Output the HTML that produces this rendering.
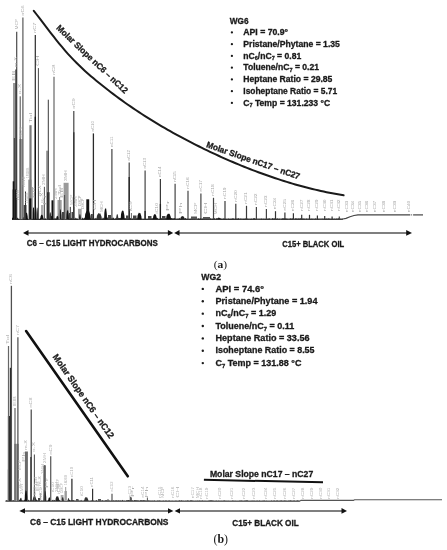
<!DOCTYPE html>
<html><head><meta charset="utf-8"><title>WG6 / WG2 chromatograms</title>
<style>
html,body{margin:0;padding:0;background:#fff;}
svg{display:block;}

</style></head>
<body>
<svg width="447" height="550" viewBox="0 0 447 550">
<rect width="447" height="550" fill="#fff"/>
<polyline points="12,219.3 343,219.0 346,218.4 350,216.8 354,215.5 358,214.9 410.3,214.9" fill="none" stroke="#444" stroke-width="1.2"/>
<line x1="411.3" y1="214.9" x2="412.1" y2="214.9" stroke="#444" stroke-width="1.2"/>
<line x1="413.1" y1="214.9" x2="423" y2="214.9" stroke="#444" stroke-width="1.2"/>
<polygon points="12,219.8 12.00,218.34 12.70,217.43 13.40,217.88 14.10,219.09 14.80,219.00 15.50,217.52 16.20,219.20 16.90,217.72 17.60,217.80 18.30,218.72 19.00,219.00 19.70,219.03 20.40,219.06 21.10,218.76 21.80,218.64 22.50,218.53 23.20,217.02 23.90,217.82 24.60,218.35 25.30,217.05 26.00,219.10 26.70,219.14 27.40,218.37 28.10,219.20 28.80,219.20 29.50,218.62 30.20,218.72 30.90,217.35 31.60,218.33 32.30,218.62 33.00,218.66 33.70,219.07 34.40,219.20 35.10,219.12 35.80,218.15 36.50,219.11 37.20,218.90 37.90,219.20 38.60,217.68 39.30,219.15 40.00,219.04 40.70,217.50 41.40,218.63 42.10,217.62 42.80,218.30 43.50,217.99 44.20,219.18 44.90,218.56 45.60,218.63 46.30,217.53 47.00,218.91 47.70,218.41 48.40,219.19 49.10,218.87 49.80,218.97 50.50,219.15 51.20,217.73 51.90,218.88 52.60,217.09 53.30,218.43 54.00,218.39 54.70,218.30 55.40,218.19 56.10,219.15 56.80,218.77 57.50,219.07 58.20,218.84 58.90,219.18 59.60,217.14 60.30,219.10 61.00,218.21 61.70,219.00 62.40,217.52 63.10,218.24 63.80,219.16 64.50,217.63 65.20,217.24 65.90,217.40 66.60,218.49 67.30,219.15 68.00,219.12 68.70,217.31 69.40,218.53 70.10,219.13 70.80,217.48 71.50,218.29 72.20,218.49 72.90,218.89 73.60,218.83 74.30,219.07 75.00,219.20 75.70,217.51 76.40,218.72 77.10,218.54 77.80,218.97 78.50,217.96 79.20,219.20 79.90,218.90 80.60,219.20 81.30,219.17 82.00,217.14 82.70,218.25 83.40,218.80 84.10,218.60 84.80,217.52 85.50,218.94 86.20,218.43 86.90,218.17 87.60,218.92 88.30,218.61 89.00,217.91 89.70,217.38 90.40,219.15 91.10,217.28 91.80,219.20 92.50,217.95 93.20,217.75 93.90,219.16 94.60,218.81 95.30,217.74 96.00,219.20 96.70,218.33 97.40,217.82 98.10,218.62 98.80,218.04 99.50,219.09 100.20,219.11 100.90,218.91 101.60,219.13 102.30,218.94 103.00,217.22 103.70,218.48 104.40,218.95 105.10,219.04 105.80,217.21 106.50,218.77 107.20,217.09 107.90,218.62 108.60,218.60 109.30,217.43 110.00,217.99 110.70,218.46 111.40,218.80 112.10,217.50 112.80,218.83 113.50,217.33 114.20,219.19 114.90,218.79 115.60,218.61 116.30,217.21 117.00,219.06 117.70,217.77 118.40,218.19 119.10,218.07 119.80,218.33 120.50,217.69 121.20,219.02 121.90,218.95 122.60,219.13 123.30,219.20 124.00,219.13 124.70,217.86 125.40,218.07 126.10,219.18 126.80,218.62 127.50,218.83 128.20,218.63 128.90,218.50 129.60,219.05 130.30,217.72 131.00,218.85 131.70,218.57 132.40,218.55 133.10,219.15 133.80,219.19 134.50,218.93 135.20,218.27 135.90,218.14 136.60,218.35 137.30,219.18 138.00,217.87 138.70,218.17 139.40,217.97 140.10,218.76 140.80,217.86 141.50,219.20 142.20,219.20 142.90,219.20 143.60,219.10 144.30,219.10 145.00,219.14 145.70,218.69 146.40,219.20 147.10,218.64 147.80,219.16 148.50,218.46 149.20,219.20 149.90,219.05 150.60,217.79 151.30,218.74 152.00,218.15 152.70,218.51 153.40,218.60 154.10,219.14 154.80,218.67 155.50,219.20 156.20,218.17 156.90,217.73 157.60,218.03 158.30,219.20 159.00,219.02 159.70,219.04 160.40,219.18 161.10,218.57 161.80,218.18 162.50,219.04 163.20,218.01 163.90,218.18 164.60,219.17 165.30,218.26 166.00,217.95 166.70,219.14 167.40,218.67 168.10,218.55 168.80,218.61 169.50,219.19 170.20,218.50 170.90,218.56 171.60,218.11 172.30,218.17 173.00,219.03 173.70,218.37 174.40,218.00 175.10,217.92 175.80,219.16 176.50,219.20 177.20,218.52 177.90,219.13 178.60,218.69 179.30,217.77 180.00,218.97 180.70,219.10 181.40,218.87 182.10,218.51 182.80,219.18 183.50,218.97 184.20,219.17 184.90,218.50 185.60,218.10 186.30,218.97 187.00,218.98 187.70,218.73 188.40,219.13 189.10,219.10 189.80,219.03 190.50,218.87 191.20,219.19 191.90,218.29 192.60,218.66 193.30,219.06 194.00,219.19 194.70,218.27 195.40,219.17 196.10,219.17 196.80,219.17 197.50,219.19 198.20,217.89 198.90,219.08 199.60,219.05 200.30,218.09 201.00,218.59 201.70,219.14 202.40,218.90 203.10,217.95 203.80,218.97 204.50,218.39 205.20,219.19 205.90,218.35 206.60,218.24 207.30,218.11 208.00,218.47 208.70,218.98 209.40,219.19 210.10,218.77 210.80,218.28 211.50,219.14 212.20,219.09 212.90,218.74 213.60,218.30 214.30,217.91 215.00,219.17 215.70,219.15 216.40,218.18 217.10,218.54 217.80,218.37 218.50,217.61 219.20,217.79 219.90,218.06 220.60,218.60 221.30,219.04 222.00,218.79 222.70,219.17 223.40,218.62 224.10,218.63 224.80,218.68 225.50,219.00 226.20,219.06 226.90,219.02 227.60,219.20 228.30,218.49 229.00,218.91 229.70,219.05 230.40,218.90 231.10,218.68 231.80,219.05 232.50,218.51 233.20,218.35 233.90,219.05 234.60,219.18 235.30,218.62 236.00,218.21 236.70,219.18 237.40,218.69 238.10,218.52 238.80,218.35 239.50,219.18 240.20,219.19 240.90,218.22 241.60,219.19 242.30,219.17 243.00,218.87 243.70,219.00 244.40,218.64 245.10,219.16 245.80,218.36 246.50,219.15 247.20,218.61 247.90,219.20 248.60,218.98 249.30,219.20 250.00,219.10 250.70,219.10 251.40,218.68 252.10,218.99 252.80,219.20 253.50,218.21 254.20,218.41 254.90,218.36 255.60,219.14 256.30,219.04 257.00,219.15 257.70,219.18 258.40,219.20 259.10,218.95 259.80,219.18 260.50,219.17 261.20,218.46 261.90,218.97 262.60,219.17 263.30,218.75 264.00,219.13 264.70,218.92 265.40,219.12 266.10,218.93 266.80,218.80 267.50,218.91 268.20,219.04 268.90,218.57 269.60,218.44 270.30,219.17 271.00,219.18 271.70,219.19 272.40,218.24 273.10,218.31 273.80,219.15 274.50,218.26 275.20,219.16 275.90,218.94 276.60,218.95 277.30,218.36 278.00,219.20 278.70,219.10 279.40,218.84 280.10,219.20 280.80,219.14 281.50,218.98 282.20,218.42 282.90,218.62 283.60,218.51 284.30,218.62 285.00,218.70 285.70,218.48 286.40,218.74 287.10,218.66 287.80,219.11 288.50,219.17 289.20,218.63 289.90,219.17 290.60,218.35 291.30,218.84 292.00,219.09 292.70,218.32 293.40,219.18 294.10,218.94 294.80,219.19 295.50,218.27 296.20,218.87 296.90,218.55 297.60,219.12 298.30,218.56 299.00,218.71 299.70,218.79 300.40,218.30 301.10,219.01 301.80,219.03 302.50,218.72 303.20,218.50 303.90,219.09 304.60,218.75 305.30,219.16 306.00,218.90 306.70,218.61 307.40,219.20 308.10,218.67 308.80,219.20 309.50,218.28 310.20,218.98 310.90,219.03 311.60,218.68 312.30,218.93 313.00,218.67 313.70,219.19 314.40,218.88 315.10,218.89 315.80,218.33 316.50,219.20 317.20,218.99 317.90,218.80 318.60,218.90 319.30,219.19 320.00,218.85 320.70,219.15 321.40,219.16 322.10,218.43 322.80,219.16 323.50,218.99 324.20,218.64 324.90,218.70 325.60,218.89 326.30,218.55 327.00,218.98 327.70,218.82 328.40,218.53 329.10,218.74 329.80,218.79 330.50,219.04 331.20,218.89 331.90,219.04 332.60,218.65 333.30,219.06 334.00,218.98 334.70,218.63 335.40,218.95 336.10,219.09 336.80,218.52 337.50,219.05 338.20,218.49 338.90,218.58 339.60,219.00 340.30,218.69 341.00,219.20 341.70,219.05 342.40,218.46 343,219.8" fill="#1e1e1e"/>
<rect x="13.00" y="83.00" width="2.60" height="136.30" fill="#9a9a9a"/>
<rect x="19.30" y="138.90" width="3.40" height="80.40" fill="#9a9a9a"/>
<rect x="28.20" y="179.60" width="3.30" height="39.70" fill="#9a9a9a"/>
<rect x="29.40" y="125.20" width="2.20" height="94.10" fill="#7a7a7a"/>
<rect x="46.10" y="150.70" width="2.50" height="68.60" fill="#9a9a9a"/>
<rect x="63.60" y="182.80" width="5.00" height="36.50" fill="#9a9a9a"/>
<rect x="57.50" y="200.00" width="4.20" height="19.30" fill="#a0a0a0"/>
<rect x="78.00" y="208.80" width="3.70" height="10.50" fill="#a8a8a8"/>
<rect x="41.00" y="205.00" width="2.50" height="14.30" fill="#b0b0b0"/>
<rect x="12.70" y="181.30" width="1.90" height="38.00" fill="#111"/>
<rect x="12.70" y="189.40" width="3.90" height="29.90" fill="#111"/>
<rect x="29.20" y="198.40" width="2.30" height="20.90" fill="#111"/>
<rect x="47.20" y="192.20" width="2.30" height="27.10" fill="#111"/>
<rect x="51.50" y="200.30" width="2.10" height="19.00" fill="#111"/>
<polygon points="58.70,219.30 58.92,213.53 59.32,210.90 59.82,208.80 60.24,209.85 60.66,209.33 61.08,212.48 61.39,215.10 61.50,219.30" fill="#111"/>
<polygon points="66.30,219.30 66.51,214.02 66.87,211.62 67.34,209.70 67.73,210.66 68.12,210.18 68.51,213.06 68.80,215.46 68.90,219.30" fill="#111"/>
<polygon points="40.30,219.30 40.54,216.61 40.96,215.38 41.50,214.40 41.95,214.89 42.40,214.65 42.85,216.12 43.18,217.34 43.30,219.30" fill="#111"/>
<rect x="86.30" y="199.30" width="2.90" height="20.00" fill="#111"/>
<polygon points="84.70,219.30 85.19,214.29 86.04,212.02 87.14,210.20 88.06,211.11 88.97,210.66 89.88,213.38 90.56,215.66 90.80,219.30" fill="#111"/>
<polygon points="78.90,219.30 79.06,216.38 79.34,215.06 79.70,214.00 80.00,214.53 80.30,214.26 80.60,215.85 80.82,217.18 80.90,219.30" fill="#222"/>
<polygon points="104.10,219.30 104.33,212.98 104.74,210.10 105.26,207.80 105.70,208.95 106.13,208.38 106.56,211.83 106.88,214.70 107.00,219.30" fill="#111"/>
<polygon points="96.50,219.30 96.92,215.84 97.67,214.26 98.62,213.00 99.41,213.63 100.21,213.31 101.00,215.21 101.59,216.78 101.80,219.30" fill="#333"/>
<polygon points="120.70,219.30 121.01,214.29 121.56,212.02 122.26,210.20 122.84,211.11 123.43,210.66 124.02,213.38 124.44,215.66 124.60,219.30" fill="#111"/>
<polygon points="116.20,219.30 116.37,216.38 116.66,215.06 117.04,214.00 117.36,214.53 117.67,214.26 117.98,215.85 118.22,217.18 118.30,219.30" fill="#333"/>
<polygon points="137.20,219.30 137.55,215.62 138.17,213.94 138.96,212.60 139.62,213.27 140.28,212.94 140.94,214.94 141.42,216.62 141.60,219.30" fill="#111"/>
<polygon points="152.90,219.30 153.21,216.38 153.76,215.06 154.46,214.00 155.04,214.53 155.63,214.26 156.22,215.85 156.64,217.18 156.80,219.30" fill="#111"/>
<polygon points="166.10,219.30 166.49,216.11 167.18,214.66 168.06,213.50 168.79,214.08 169.53,213.79 170.26,215.53 170.80,216.98 171.00,219.30" fill="#111"/>
<polygon points="180.30,219.30 180.65,217.49 181.27,216.66 182.06,216.00 182.72,216.33 183.38,216.16 184.04,217.16 184.52,217.98 184.70,219.30" fill="#222"/>
<rect x="23.60" y="205.00" width="2.90" height="14.30" fill="#444"/>
<polygon points="32.30,219.30 32.48,212.43 32.81,209.30 33.22,206.80 33.56,208.05 33.91,207.43 34.25,211.18 34.51,214.30 34.60,219.30" fill="#111"/>
<polygon points="25.00,219.30 25.22,215.50 25.62,213.78 26.12,212.40 26.54,213.09 26.96,212.75 27.38,214.81 27.69,216.54 27.80,219.30" fill="#111"/>
<polygon points="56.20,219.30 56.38,217.38 56.71,216.50 57.12,215.80 57.47,216.15 57.81,215.98 58.16,217.03 58.41,217.90 58.50,219.30" fill="#111"/>
<polygon points="49.70,219.30 49.95,217.38 50.38,216.50 50.94,215.80 51.41,216.15 51.87,215.98 52.34,217.03 52.68,217.90 52.80,219.30" fill="#111"/>
<polygon points="36.20,219.30 36.35,212.53 36.62,209.46 36.96,207.00 37.24,208.23 37.53,207.62 37.81,211.31 38.02,214.38 38.10,219.30" fill="#333"/>
<polygon points="49.20,219.30 49.37,215.28 49.66,213.46 50.04,212.00 50.35,212.73 50.67,212.37 50.98,214.56 51.22,216.38 51.30,219.30" fill="#333"/>
<rect x="62.00" y="212.00" width="2.00" height="7.30" fill="#444"/>
<rect x="69.00" y="213.00" width="1.00" height="6.30" fill="#444"/>
<rect x="71.50" y="212.00" width="1.50" height="7.30" fill="#444"/>
<rect x="91.00" y="214.00" width="1.80" height="5.30" fill="#444"/>
<rect x="108.00" y="215.00" width="3.00" height="4.30" fill="#444"/>
<rect x="126.00" y="215.50" width="2.50" height="3.80" fill="#444"/>
<rect x="133.00" y="215.50" width="3.50" height="3.80" fill="#444"/>
<rect x="148.00" y="216.00" width="3.50" height="3.30" fill="#444"/>
<rect x="162.00" y="216.00" width="3.50" height="3.30" fill="#444"/>
<rect x="191.00" y="216.50" width="6.00" height="2.80" fill="#555"/>
<rect x="203.00" y="217.00" width="7.00" height="2.30" fill="#555"/>
<line x1="16.70" y1="31.80" x2="16.70" y2="219.30" stroke="#4a4a4a" stroke-width="1.2"/>
<line x1="22.90" y1="17.60" x2="22.90" y2="219.30" stroke="#5a5a5a" stroke-width="1.2"/>
<line x1="35.30" y1="35.00" x2="35.30" y2="219.30" stroke="#2a2a2a" stroke-width="1.2"/>
<line x1="38.40" y1="68.10" x2="38.40" y2="219.30" stroke="#4a4a4a" stroke-width="1.0"/>
<line x1="54.00" y1="76.80" x2="54.00" y2="219.30" stroke="#666" stroke-width="1.2"/>
<line x1="48.30" y1="99.70" x2="48.30" y2="219.30" stroke="#3a3a3a" stroke-width="1.0"/>
<line x1="20.20" y1="96.30" x2="20.20" y2="219.30" stroke="#4a4a4a" stroke-width="1.0"/>
<line x1="14.40" y1="138.00" x2="14.40" y2="219.30" stroke="#333" stroke-width="0.9"/>
<line x1="25.50" y1="191.50" x2="25.50" y2="219.30" stroke="#333" stroke-width="1.0"/>
<line x1="32.20" y1="187.00" x2="32.20" y2="219.30" stroke="#888" stroke-width="1.0"/>
<line x1="44.40" y1="186.80" x2="44.40" y2="219.30" stroke="#555" stroke-width="1.0"/>
<line x1="64.50" y1="195.00" x2="64.50" y2="219.30" stroke="#555" stroke-width="1.2"/>
<line x1="70.30" y1="206.90" x2="70.30" y2="219.30" stroke="#333" stroke-width="1.0"/>
<line x1="59.60" y1="197.00" x2="59.60" y2="219.30" stroke="#888" stroke-width="1.0"/>
<line x1="73.80" y1="111.00" x2="73.80" y2="219.30" stroke="#444" stroke-width="1.2"/>
<line x1="93.40" y1="133.40" x2="93.40" y2="219.30" stroke="#2a2a2a" stroke-width="1.3"/>
<line x1="111.90" y1="149.00" x2="111.90" y2="219.30" stroke="#444" stroke-width="1.2"/>
<line x1="129.20" y1="162.40" x2="129.20" y2="219.30" stroke="#444" stroke-width="1.2"/>
<line x1="145.10" y1="170.50" x2="145.10" y2="219.30" stroke="#444" stroke-width="1.2"/>
<line x1="160.40" y1="179.00" x2="160.40" y2="219.30" stroke="#3a3a3a" stroke-width="1.2"/>
<line x1="175.10" y1="183.70" x2="175.10" y2="219.30" stroke="#444" stroke-width="1.2"/>
<line x1="188.00" y1="190.80" x2="188.00" y2="219.30" stroke="#444" stroke-width="1.2"/>
<line x1="200.90" y1="193.50" x2="200.90" y2="219.30" stroke="#444" stroke-width="1.2"/>
<line x1="213.50" y1="197.80" x2="213.50" y2="219.30" stroke="#444" stroke-width="1.2"/>
<line x1="225.00" y1="201.00" x2="225.00" y2="219.30" stroke="#3a3a3a" stroke-width="1.2"/>
<line x1="235.80" y1="203.70" x2="235.80" y2="219.30" stroke="#3a3a3a" stroke-width="1.2"/>
<line x1="246.50" y1="205.80" x2="246.50" y2="219.30" stroke="#3a3a3a" stroke-width="1.2"/>
<line x1="256.40" y1="206.90" x2="256.40" y2="219.30" stroke="#444" stroke-width="1.2"/>
<line x1="266.40" y1="209.00" x2="266.40" y2="219.30" stroke="#444" stroke-width="1.2"/>
<line x1="275.50" y1="211.20" x2="275.50" y2="219.30" stroke="#333" stroke-width="1.2"/>
<line x1="284.90" y1="212.60" x2="284.90" y2="219.30" stroke="#333" stroke-width="1.2"/>
<line x1="293.40" y1="213.20" x2="293.40" y2="219.30" stroke="#333" stroke-width="1.2"/>
<line x1="301.70" y1="214.80" x2="301.70" y2="219.30" stroke="#333" stroke-width="1.2"/>
<line x1="309.50" y1="214.80" x2="309.50" y2="219.30" stroke="#333" stroke-width="1.2"/>
<line x1="317.40" y1="215.50" x2="317.40" y2="219.30" stroke="#333" stroke-width="1.2"/>
<line x1="324.70" y1="215.90" x2="324.70" y2="219.30" stroke="#333" stroke-width="1.2"/>
<line x1="332.10" y1="216.40" x2="332.10" y2="219.30" stroke="#333" stroke-width="1.2"/>
<line x1="339.30" y1="216.60" x2="339.30" y2="219.30" stroke="#444" stroke-width="1.2"/>
<line x1="131.40" y1="213.00" x2="131.40" y2="219.30" stroke="#666" stroke-width="1.0"/>
<line x1="129.20" y1="177.00" x2="129.20" y2="219.30" stroke="#222" stroke-width="1.3"/>
<line x1="145.10" y1="211.00" x2="145.10" y2="219.30" stroke="#222" stroke-width="1.3"/>
<line x1="160.40" y1="204.00" x2="160.40" y2="219.30" stroke="#222" stroke-width="1.3"/>
<line x1="73.80" y1="132.30" x2="73.80" y2="219.30" stroke="#333" stroke-width="1.3"/>
<line x1="15.90" y1="69.50" x2="15.90" y2="219.30" stroke="#222" stroke-width="1.1"/>
<line x1="35.30" y1="116.70" x2="35.30" y2="219.30" stroke="#111" stroke-width="1.3"/>
<text transform="translate(17.55,29.50) rotate(-90)" font-family='"Liberation Sans", Arial, sans-serif' font-size="3.0" fill="#a8a8a8" textLength="10.5" lengthAdjust="spacingAndGlyphs">MCP</text>
<text transform="translate(23.75,15.80) rotate(-90)" font-family='"Liberation Sans", Arial, sans-serif' font-size="3.0" fill="#a8a8a8" textLength="10.5" lengthAdjust="spacingAndGlyphs">nC6</text>
<text transform="translate(36.35,33.00) rotate(-90)" font-family='"Liberation Sans", Arial, sans-serif' font-size="3.0" fill="#a8a8a8" textLength="10.5" lengthAdjust="spacingAndGlyphs">nC7</text>
<text transform="translate(39.25,66.00) rotate(-90)" font-family='"Liberation Sans", Arial, sans-serif' font-size="3.0" fill="#a8a8a8" textLength="10.5" lengthAdjust="spacingAndGlyphs">CH</text>
<text transform="translate(54.85,75.00) rotate(-90)" font-family='"Liberation Sans", Arial, sans-serif' font-size="3.0" fill="#a8a8a8" textLength="10.5" lengthAdjust="spacingAndGlyphs">nC8</text>
<text transform="translate(74.65,108.80) rotate(-90)" font-family='"Liberation Sans", Arial, sans-serif' font-size="3.0" fill="#a8a8a8" textLength="10.5" lengthAdjust="spacingAndGlyphs">nC9</text>
<text transform="translate(94.25,131.50) rotate(-90)" font-family='"Liberation Sans", Arial, sans-serif' font-size="3.0" fill="#a8a8a8" textLength="10.5" lengthAdjust="spacingAndGlyphs">nC10</text>
<text transform="translate(112.75,147.00) rotate(-90)" font-family='"Liberation Sans", Arial, sans-serif' font-size="3.0" fill="#a8a8a8" textLength="10.5" lengthAdjust="spacingAndGlyphs">nC11</text>
<text transform="translate(130.05,160.50) rotate(-90)" font-family='"Liberation Sans", Arial, sans-serif' font-size="3.0" fill="#a8a8a8" textLength="10.5" lengthAdjust="spacingAndGlyphs">nC12</text>
<text transform="translate(145.95,168.50) rotate(-90)" font-family='"Liberation Sans", Arial, sans-serif' font-size="3.0" fill="#a8a8a8" textLength="10.5" lengthAdjust="spacingAndGlyphs">nC13</text>
<text transform="translate(161.25,177.00) rotate(-90)" font-family='"Liberation Sans", Arial, sans-serif' font-size="3.0" fill="#a8a8a8" textLength="10.5" lengthAdjust="spacingAndGlyphs">nC14</text>
<text transform="translate(175.95,181.80) rotate(-90)" font-family='"Liberation Sans", Arial, sans-serif' font-size="3.0" fill="#a8a8a8" textLength="10.5" lengthAdjust="spacingAndGlyphs">nC15</text>
<text transform="translate(188.85,188.80) rotate(-90)" font-family='"Liberation Sans", Arial, sans-serif' font-size="3.0" fill="#a8a8a8" textLength="11.5" lengthAdjust="spacingAndGlyphs">nC16</text>
<text transform="translate(201.75,191.50) rotate(-90)" font-family='"Liberation Sans", Arial, sans-serif' font-size="3.0" fill="#a8a8a8" textLength="11.5" lengthAdjust="spacingAndGlyphs">nC17</text>
<text transform="translate(214.35,195.80) rotate(-90)" font-family='"Liberation Sans", Arial, sans-serif' font-size="3.0" fill="#a8a8a8" textLength="11.5" lengthAdjust="spacingAndGlyphs">nC18</text>
<text transform="translate(225.85,199.00) rotate(-90)" font-family='"Liberation Sans", Arial, sans-serif' font-size="3.0" fill="#a8a8a8" textLength="11.5" lengthAdjust="spacingAndGlyphs">nC19</text>
<text transform="translate(236.65,201.70) rotate(-90)" font-family='"Liberation Sans", Arial, sans-serif' font-size="3.0" fill="#a8a8a8" textLength="11.5" lengthAdjust="spacingAndGlyphs">nC20</text>
<text transform="translate(247.35,203.80) rotate(-90)" font-family='"Liberation Sans", Arial, sans-serif' font-size="3.0" fill="#a8a8a8" textLength="11.5" lengthAdjust="spacingAndGlyphs">nC21</text>
<text transform="translate(257.25,205.00) rotate(-90)" font-family='"Liberation Sans", Arial, sans-serif' font-size="3.0" fill="#a8a8a8" textLength="11.5" lengthAdjust="spacingAndGlyphs">nC22</text>
<text transform="translate(267.25,207.00) rotate(-90)" font-family='"Liberation Sans", Arial, sans-serif' font-size="3.0" fill="#a8a8a8" textLength="11.5" lengthAdjust="spacingAndGlyphs">nC23</text>
<text transform="translate(276.35,209.20) rotate(-90)" font-family='"Liberation Sans", Arial, sans-serif' font-size="3.0" fill="#a8a8a8" textLength="11.5" lengthAdjust="spacingAndGlyphs">nC24</text>
<text transform="translate(285.75,210.60) rotate(-90)" font-family='"Liberation Sans", Arial, sans-serif' font-size="3.0" fill="#a8a8a8" textLength="11.5" lengthAdjust="spacingAndGlyphs">nC25</text>
<text transform="translate(294.25,211.20) rotate(-90)" font-family='"Liberation Sans", Arial, sans-serif' font-size="3.0" fill="#a8a8a8" textLength="11.5" lengthAdjust="spacingAndGlyphs">nC26</text>
<text transform="translate(302.55,211.00) rotate(-90)" font-family='"Liberation Sans", Arial, sans-serif' font-size="3.0" fill="#a8a8a8" textLength="11.5" lengthAdjust="spacingAndGlyphs">nC27</text>
<text transform="translate(310.35,211.00) rotate(-90)" font-family='"Liberation Sans", Arial, sans-serif' font-size="3.0" fill="#a8a8a8" textLength="11.5" lengthAdjust="spacingAndGlyphs">nC28</text>
<text transform="translate(318.25,211.00) rotate(-90)" font-family='"Liberation Sans", Arial, sans-serif' font-size="3.0" fill="#a8a8a8" textLength="11.5" lengthAdjust="spacingAndGlyphs">nC29</text>
<text transform="translate(325.55,211.00) rotate(-90)" font-family='"Liberation Sans", Arial, sans-serif' font-size="3.0" fill="#a8a8a8" textLength="11.5" lengthAdjust="spacingAndGlyphs">nC30</text>
<text transform="translate(332.95,211.00) rotate(-90)" font-family='"Liberation Sans", Arial, sans-serif' font-size="3.0" fill="#a8a8a8" textLength="11.5" lengthAdjust="spacingAndGlyphs">nC31</text>
<text transform="translate(340.15,211.00) rotate(-90)" font-family='"Liberation Sans", Arial, sans-serif' font-size="3.0" fill="#a8a8a8" textLength="11.5" lengthAdjust="spacingAndGlyphs">nC32</text>
<text transform="translate(347.55,212.20) rotate(-90)" font-family='"Liberation Sans", Arial, sans-serif' font-size="3.0" fill="#a8a8a8" textLength="11.5" lengthAdjust="spacingAndGlyphs">nC33</text>
<text transform="translate(353.55,212.20) rotate(-90)" font-family='"Liberation Sans", Arial, sans-serif' font-size="3.0" fill="#a8a8a8" textLength="11.5" lengthAdjust="spacingAndGlyphs">nC34</text>
<text transform="translate(360.65,212.20) rotate(-90)" font-family='"Liberation Sans", Arial, sans-serif' font-size="3.0" fill="#a8a8a8" textLength="11.5" lengthAdjust="spacingAndGlyphs">nC35</text>
<text transform="translate(368.25,212.20) rotate(-90)" font-family='"Liberation Sans", Arial, sans-serif' font-size="3.0" fill="#a8a8a8" textLength="11.5" lengthAdjust="spacingAndGlyphs">nC36</text>
<text transform="translate(376.05,212.20) rotate(-90)" font-family='"Liberation Sans", Arial, sans-serif' font-size="3.0" fill="#a8a8a8" textLength="11.5" lengthAdjust="spacingAndGlyphs">nC37</text>
<text transform="translate(385.45,212.20) rotate(-90)" font-family='"Liberation Sans", Arial, sans-serif' font-size="3.0" fill="#a8a8a8" textLength="11.5" lengthAdjust="spacingAndGlyphs">nC38</text>
<text transform="translate(395.95,212.20) rotate(-90)" font-family='"Liberation Sans", Arial, sans-serif' font-size="3.0" fill="#a8a8a8" textLength="11.5" lengthAdjust="spacingAndGlyphs">nC39</text>
<text transform="translate(410.05,212.20) rotate(-90)" font-family='"Liberation Sans", Arial, sans-serif' font-size="3.0" fill="#a8a8a8" textLength="11.5" lengthAdjust="spacingAndGlyphs">nC40</text>
<text transform="translate(21.65,138.00) rotate(-90)" font-family='"Liberation Sans", Arial, sans-serif' font-size="3.0" fill="#a8a8a8" textLength="10.5" lengthAdjust="spacingAndGlyphs">MCH</text>
<text transform="translate(31.55,123.00) rotate(-90)" font-family='"Liberation Sans", Arial, sans-serif' font-size="3.0" fill="#a8a8a8" textLength="10.5" lengthAdjust="spacingAndGlyphs">Tol</text>
<text transform="translate(15.05,81.00) rotate(-90)" font-family='"Liberation Sans", Arial, sans-serif' font-size="3.0" fill="#a8a8a8" textLength="10.5" lengthAdjust="spacingAndGlyphs">EB</text>
<text transform="translate(16.85,67.50) rotate(-90)" font-family='"Liberation Sans", Arial, sans-serif' font-size="3.0" fill="#a8a8a8" textLength="10.5" lengthAdjust="spacingAndGlyphs">m-X</text>
<text transform="translate(21.05,94.30) rotate(-90)" font-family='"Liberation Sans", Arial, sans-serif' font-size="3.0" fill="#a8a8a8" textLength="10.5" lengthAdjust="spacingAndGlyphs">o-X</text>
<text transform="translate(45.25,185.00) rotate(-90)" font-family='"Liberation Sans", Arial, sans-serif' font-size="3.0" fill="#a8a8a8" textLength="10.5" lengthAdjust="spacingAndGlyphs">2MH</text>
<text transform="translate(67.45,181.00) rotate(-90)" font-family='"Liberation Sans", Arial, sans-serif' font-size="3.0" fill="#a8a8a8" textLength="10.5" lengthAdjust="spacingAndGlyphs">3MH</text>
<text transform="translate(80.65,206.00) rotate(-90)" font-family='"Liberation Sans", Arial, sans-serif' font-size="3.0" fill="#a8a8a8" textLength="10.5" lengthAdjust="spacingAndGlyphs">DMCP</text>
<text transform="translate(29.35,178.00) rotate(-90)" font-family='"Liberation Sans", Arial, sans-serif' font-size="3.0" fill="#a8a8a8" textLength="10.5" lengthAdjust="spacingAndGlyphs">1M3EB</text>
<text transform="translate(132.25,211.50) rotate(-90)" font-family='"Liberation Sans", Arial, sans-serif' font-size="3.0" fill="#a8a8a8" textLength="10.5" lengthAdjust="spacingAndGlyphs">iC9</text>
<text transform="translate(158.35,213.50) rotate(-90)" font-family='"Liberation Sans", Arial, sans-serif' font-size="3.0" fill="#a8a8a8" textLength="10.5" lengthAdjust="spacingAndGlyphs">iC10</text>
<text transform="translate(168.85,211.00) rotate(-90)" font-family='"Liberation Sans", Arial, sans-serif' font-size="3.0" fill="#a8a8a8" textLength="10.5" lengthAdjust="spacingAndGlyphs">Pr</text>
<text transform="translate(182.35,214.00) rotate(-90)" font-family='"Liberation Sans", Arial, sans-serif' font-size="3.0" fill="#a8a8a8" textLength="11.5" lengthAdjust="spacingAndGlyphs">Ph</text>
<text transform="translate(197.35,214.00) rotate(-90)" font-family='"Liberation Sans", Arial, sans-serif' font-size="3.0" fill="#a8a8a8" textLength="11.5" lengthAdjust="spacingAndGlyphs">MCP</text>
<text transform="translate(206.85,214.00) rotate(-90)" font-family='"Liberation Sans", Arial, sans-serif' font-size="3.0" fill="#a8a8a8" textLength="11.5" lengthAdjust="spacingAndGlyphs">CH</text>
<text transform="translate(216.95,214.50) rotate(-90)" font-family='"Liberation Sans", Arial, sans-serif' font-size="3.0" fill="#a8a8a8" textLength="11.5" lengthAdjust="spacingAndGlyphs">MCH</text>
<text transform="translate(60.85,195.50) rotate(-90)" font-family='"Liberation Sans", Arial, sans-serif' font-size="3.0" fill="#a8a8a8" textLength="10.5" lengthAdjust="spacingAndGlyphs">Tol</text>
<text transform="translate(62.85,198.00) rotate(-90)" font-family='"Liberation Sans", Arial, sans-serif' font-size="3.0" fill="#a8a8a8" textLength="10.5" lengthAdjust="spacingAndGlyphs">EB</text>
<text transform="translate(40.85,196.00) rotate(-90)" font-family='"Liberation Sans", Arial, sans-serif' font-size="3.0" fill="#a8a8a8" textLength="10.5" lengthAdjust="spacingAndGlyphs">m-X</text>
<text transform="translate(42.85,203.00) rotate(-90)" font-family='"Liberation Sans", Arial, sans-serif' font-size="3.0" fill="#a8a8a8" textLength="10.5" lengthAdjust="spacingAndGlyphs">o-X</text>
<text transform="translate(56.85,199.00) rotate(-90)" font-family='"Liberation Sans", Arial, sans-serif' font-size="3.0" fill="#a8a8a8" textLength="10.5" lengthAdjust="spacingAndGlyphs">2MH</text>
<text transform="translate(76.85,207.00) rotate(-90)" font-family='"Liberation Sans", Arial, sans-serif' font-size="3.0" fill="#a8a8a8" textLength="10.5" lengthAdjust="spacingAndGlyphs">3MH</text>
<text transform="translate(83.85,209.00) rotate(-90)" font-family='"Liberation Sans", Arial, sans-serif' font-size="3.0" fill="#a8a8a8" textLength="10.5" lengthAdjust="spacingAndGlyphs">DMCP</text>
<text transform="translate(27.65,203.00) rotate(-90)" font-family='"Liberation Sans", Arial, sans-serif' font-size="3.0" fill="#a8a8a8" textLength="10.5" lengthAdjust="spacingAndGlyphs">1M3EB</text>
<text transform="translate(19.45,200.00) rotate(-90)" font-family='"Liberation Sans", Arial, sans-serif' font-size="3.0" fill="#a8a8a8" textLength="10.5" lengthAdjust="spacingAndGlyphs">iC9</text>
<text transform="translate(24.85,187.00) rotate(-90)" font-family='"Liberation Sans", Arial, sans-serif' font-size="3.0" fill="#a8a8a8" textLength="10.5" lengthAdjust="spacingAndGlyphs">iC10</text>
<text transform="translate(46.45,205.00) rotate(-90)" font-family='"Liberation Sans", Arial, sans-serif' font-size="3.0" fill="#a8a8a8" textLength="10.5" lengthAdjust="spacingAndGlyphs">Pr</text>
<text transform="translate(34.85,198.00) rotate(-90)" font-family='"Liberation Sans", Arial, sans-serif' font-size="3.0" fill="#a8a8a8" textLength="10.5" lengthAdjust="spacingAndGlyphs">Ph</text>
<text transform="translate(72.65,205.00) rotate(-90)" font-family='"Liberation Sans", Arial, sans-serif' font-size="3.0" fill="#a8a8a8" textLength="10.5" lengthAdjust="spacingAndGlyphs">MCP</text>
<text transform="translate(96.35,210.00) rotate(-90)" font-family='"Liberation Sans", Arial, sans-serif' font-size="3.0" fill="#a8a8a8" textLength="10.5" lengthAdjust="spacingAndGlyphs">CH</text>
<text transform="translate(102.85,212.00) rotate(-90)" font-family='"Liberation Sans", Arial, sans-serif' font-size="3.0" fill="#a8a8a8" textLength="10.5" lengthAdjust="spacingAndGlyphs">MCH</text>
<path d="M33.80,10.81 L36.64,14.51 L39.48,18.22 L42.33,21.95 L45.17,25.67 L48.01,29.38 L50.85,33.05 L53.70,36.69 L56.54,40.27 L59.38,43.79 L62.22,47.22 L65.06,50.56 L67.91,53.79 L70.75,56.90 L73.59,59.90 L76.43,62.79 L79.28,65.58 L82.12,68.28 L84.96,70.90 L87.80,73.45 L90.64,75.92 L93.49,78.34 L96.33,80.71 L99.17,83.04 L102.01,85.34 L104.86,87.59 L107.70,89.82 L110.54,92.01 L113.38,94.16 L116.22,96.28 L119.07,98.38 L121.91,100.43 L124.75,102.46 L127.59,104.46 L130.43,106.43 L133.28,108.37 L136.12,110.27 L138.96,112.16 L141.80,114.01 L144.65,115.84 L147.49,117.64 L150.33,119.41 L153.17,121.17 L156.01,122.89 L158.86,124.59 L161.70,126.27 L164.54,127.93 L167.38,129.56 L170.23,131.18 L173.07,132.77 L175.91,134.34 L178.75,135.89 L181.59,137.42 L184.44,138.94 L187.28,140.44 L190.12,141.92 L192.96,143.38 L195.81,144.82 L198.65,146.25 L201.49,147.66 L204.33,149.05 L207.17,150.43 L210.02,151.78 L212.86,153.12 L215.70,154.45 L218.54,155.75 L221.39,157.04 L224.23,158.31 L227.07,159.57 L229.91,160.80 L232.75,162.02 L235.60,163.22 L238.44,164.41 L241.28,165.57 L244.12,166.72 L246.97,167.86 L249.81,168.97 L252.65,170.07 L255.49,171.15 L258.33,172.21 L261.18,173.26 L264.02,174.28 L266.86,175.30 L269.70,176.29 L272.54,177.26 L275.39,178.22 L278.23,179.16 L281.07,180.09 L283.91,180.99 L286.76,181.88 L289.60,182.75 L292.44,183.59 L295.28,184.42 L298.12,185.23 L300.97,186.02 L303.81,186.79 L306.65,187.54 L309.49,188.26 L312.34,188.97 L315.18,189.65 L318.02,190.32 L320.86,190.96 L323.70,191.57 L326.55,192.17 L329.39,192.74 L332.23,193.29 L335.07,193.81 L337.92,194.31 L340.76,194.79 L343.60,195.24" fill="none" stroke="#1a1a1a" stroke-width="2.0" stroke-linecap="round"/>
<text transform="translate(55.80,28.50) rotate(43.60)" font-family='"Liberation Sans", Arial, sans-serif' font-size="8.6" font-weight="bold" fill="#1a1a1a" stroke="#1a1a1a" stroke-width="0.3" textLength="95.0" lengthAdjust="spacingAndGlyphs">Molar Slope nC6 – nC12</text>
<text transform="translate(205.70,147.00) rotate(19.30)" font-family='"Liberation Sans", Arial, sans-serif' font-size="8.6" font-weight="bold" fill="#1a1a1a" stroke="#1a1a1a" stroke-width="0.3" textLength="98.5" lengthAdjust="spacingAndGlyphs">Molar Slope nC17 – nC27</text>
<text x="229.80" y="24.00" font-family='"Liberation Sans", Arial, sans-serif' font-size="8.8" font-weight="bold" fill="#1a1a1a" stroke="#1a1a1a" stroke-width="0.3" textLength="18.8" lengthAdjust="spacingAndGlyphs">WG6</text>
<circle cx="231.9" cy="32.40" r="1.15" fill="#1a1a1a"/>
<text x="243.30" y="35.00" font-family='"Liberation Sans", Arial, sans-serif' font-size="8.6" font-weight="bold" fill="#1a1a1a" stroke="#1a1a1a" stroke-width="0.3" textLength="44.8" lengthAdjust="spacingAndGlyphs">API = 70.9°</text>
<circle cx="231.9" cy="44.15" r="1.15" fill="#1a1a1a"/>
<text x="243.30" y="46.75" font-family='"Liberation Sans", Arial, sans-serif' font-size="8.6" font-weight="bold" fill="#1a1a1a" stroke="#1a1a1a" stroke-width="0.3" textLength="96.6" lengthAdjust="spacingAndGlyphs">Pristane/Phytane = 1.35</text>
<circle cx="231.9" cy="55.90" r="1.15" fill="#1a1a1a"/>
<text x="243.30" y="58.50" font-family='"Liberation Sans", Arial, sans-serif' font-size="8.6" font-weight="bold" fill="#1a1a1a" stroke="#1a1a1a" stroke-width="0.3">nC<tspan font-size="5.5" dy="1.8">6</tspan><tspan dy="-1.8">/nC</tspan><tspan font-size="5.5" dy="1.8">7</tspan><tspan dy="-1.8"> = 0.81</tspan></text>
<circle cx="231.9" cy="67.65" r="1.15" fill="#1a1a1a"/>
<text x="243.30" y="70.25" font-family='"Liberation Sans", Arial, sans-serif' font-size="8.6" font-weight="bold" fill="#1a1a1a" stroke="#1a1a1a" stroke-width="0.3">Toluene/nC<tspan font-size="5.5" dy="1.8">7</tspan><tspan dy="-1.8"> = 0.21</tspan></text>
<circle cx="231.9" cy="79.40" r="1.15" fill="#1a1a1a"/>
<text x="243.30" y="82.00" font-family='"Liberation Sans", Arial, sans-serif' font-size="8.6" font-weight="bold" fill="#1a1a1a" stroke="#1a1a1a" stroke-width="0.3" textLength="89.1" lengthAdjust="spacingAndGlyphs">Heptane Ratio = 29.85</text>
<circle cx="231.9" cy="91.15" r="1.15" fill="#1a1a1a"/>
<text x="243.30" y="93.75" font-family='"Liberation Sans", Arial, sans-serif' font-size="8.6" font-weight="bold" fill="#1a1a1a" stroke="#1a1a1a" stroke-width="0.3" textLength="93.9" lengthAdjust="spacingAndGlyphs">Isoheptane Ratio = 5.71</text>
<circle cx="231.9" cy="102.90" r="1.15" fill="#1a1a1a"/>
<text x="243.30" y="105.50" font-family='"Liberation Sans", Arial, sans-serif' font-size="8.6" font-weight="bold" fill="#1a1a1a" stroke="#1a1a1a" stroke-width="0.3">C<tspan font-size="5.5" dy="1.8">7</tspan><tspan dy="-1.8"> Temp = 131.233 °C</tspan></text>
<line x1="26" y1="232.9" x2="169" y2="232.9" stroke="#555" stroke-width="1.45"/>
<line x1="178" y1="232.9" x2="408" y2="232.9" stroke="#555" stroke-width="1.45"/>
<polygon points="23,232.9 28.5,230.1 28.5,235.70000000000002" fill="#111"/>
<polygon points="173.2,232.9 167.9,230.0 167.9,235.8" fill="#111"/>
<polygon points="174.2,232.9 179.5,230.0 179.5,235.8" fill="#111"/>
<polygon points="412,232.9 406.2,230.0 406.2,235.8" fill="#111"/>
<text x="26.80" y="245.50" font-family='"Liberation Sans", Arial, sans-serif' font-size="8.4" font-weight="bold" fill="#1a1a1a" stroke="#1a1a1a" stroke-width="0.3" textLength="130.9" lengthAdjust="spacingAndGlyphs">C6 – C15 LIGHT HYDROCARBONS</text>
<text x="282.20" y="246.50" font-family='"Liberation Sans", Arial, sans-serif' font-size="8.6" font-weight="bold" fill="#1a1a1a" stroke="#1a1a1a" stroke-width="0.3" textLength="62.0" lengthAdjust="spacingAndGlyphs">C15+ BLACK OIL</text>
<text x="213.80" y="268.10" font-family='"Liberation Serif", "Times New Roman", serif' font-size="10.9" font-weight="normal" fill="#1a1a1a" textLength="13.4" lengthAdjust="spacingAndGlyphs">(<tspan font-weight="bold">a</tspan>)</text>
<polyline points="5.5,501.0 300,501.0 301,500.4 353.5,500.4 354.5,499.8 442,499.8" fill="none" stroke="#555" stroke-width="1.1"/>
<polygon points="5.5,501.5 5.50,500.97 6.20,500.55 6.90,500.35 7.60,501.00 8.30,500.96 9.00,499.45 9.70,500.99 10.40,500.97 11.10,499.38 11.80,500.30 12.50,500.75 13.20,500.53 13.90,500.21 14.60,500.86 15.30,500.97 16.00,499.88 16.70,500.19 17.40,500.53 18.10,499.80 18.80,500.46 19.50,499.27 20.20,500.92 20.90,500.45 21.60,500.58 22.30,500.78 23.00,500.37 23.70,500.90 24.40,499.84 25.10,499.65 25.80,500.97 26.50,500.61 27.20,500.86 27.90,500.99 28.60,499.56 29.30,500.67 30.00,500.96 30.70,500.18 31.40,500.93 32.10,499.54 32.80,500.92 33.50,501.00 34.20,500.93 34.90,500.78 35.60,500.60 36.30,499.52 37.00,500.12 37.70,500.79 38.40,501.00 39.10,500.95 39.80,499.21 40.50,500.62 41.20,500.14 41.90,500.99 42.60,501.00 43.30,499.71 44.00,500.38 44.70,500.83 45.40,500.82 46.10,500.99 46.80,500.95 47.50,501.00 48.20,499.73 48.90,500.61 49.60,500.97 50.30,500.02 51.00,500.93 51.70,500.99 52.40,500.36 53.10,499.56 53.80,501.00 54.50,499.83 55.20,500.93 55.90,500.98 56.60,501.00 57.30,500.85 58.00,500.05 58.70,500.56 59.40,499.69 60.10,500.92 60.80,500.82 61.50,500.88 62.20,499.28 62.90,499.41 63.60,500.79 64.30,500.66 65.00,500.82 65.70,500.00 66.40,501.00 67.10,500.99 67.80,500.71 68.50,500.89 69.20,499.71 69.90,500.01 70.60,500.64 71.30,500.47 72.00,500.42 72.70,500.27 73.40,499.97 74.10,500.97 74.80,500.53 75.50,500.98 76.20,500.76 76.90,500.26 77.60,500.04 78.30,500.31 79.00,501.00 79.70,500.84 80.40,500.97 81.10,499.80 81.80,500.98 82.50,500.93 83.20,500.85 83.90,501.00 84.60,500.09 85.30,500.51 86.00,500.97 86.70,500.70 87.40,500.99 88.10,500.55 88.80,500.94 89.50,501.00 90.20,500.98 90.90,500.63 91.60,500.51 92.30,500.87 93.00,500.50 93.70,500.85 94.40,500.98 95.10,500.88 95.80,500.81 96.50,500.00 97.20,500.98 97.90,500.99 98.60,500.62 99.30,499.89 100.00,500.01 100.70,500.41 101.40,500.99 102.10,500.22 102.80,500.44 103.50,500.98 104.20,500.74 104.90,501.00 105.60,500.23 106.30,500.38 107.00,500.22 107.70,500.31 108.40,500.91 109.10,500.25 109.80,500.93 110.50,500.98 111.20,500.82 111.90,500.70 112.60,500.90 113.30,500.56 114.00,500.56 114.70,500.93 115.40,500.53 116.10,500.85 116.80,500.35 117.50,500.90 118.20,500.23 118.90,500.79 119.60,500.63 120.30,500.46 121.00,500.68 121.70,500.92 122.40,499.85 123.10,500.99 123.80,500.87 124.50,500.64 125.20,501.00 125.90,500.97 126.60,500.23 127.30,500.26 128.00,500.51 128.70,500.02 129.40,500.32 130.10,500.89 130.80,500.50 131.50,500.86 132.20,500.33 132.90,500.82 133.60,500.97 134.30,500.08 135.00,500.43 135.70,500.33 136.40,500.62 137.10,500.26 137.80,500.76 138.50,500.62 139.20,501.00 139.90,500.63 140.60,500.20 141.30,500.40 142.00,500.23 142.70,500.70 143.40,500.07 144.10,500.99 144.80,500.08 145.50,500.83 146.20,500.99 146.90,500.54 147.60,500.75 148.30,500.78 149.00,500.13 149.70,500.98 150.40,500.77 151.10,500.90 151.80,500.83 152.50,500.85 153.20,500.99 153.90,500.84 154.60,500.55 155.30,500.98 156.00,501.00 156.70,501.00 157.40,500.87 158.10,500.43 158.80,501.00 159.50,500.41 160.20,500.83 160.90,500.99 161.60,500.89 162.30,500.97 163.00,500.69 163.70,500.82 164.40,500.95 165.10,500.96 165.80,500.55 166.50,500.65 167.20,500.89 167.90,500.90 168.60,500.67 169.30,500.43 170.00,501.00 170.70,500.98 171.40,500.92 172.10,500.85 172.80,501.00 173.50,501.00 174.20,500.97 174.90,500.91 175.60,500.67 176.30,500.78 177.00,501.00 177.70,501.00 178.40,500.88 179.10,500.54 179.80,500.50 180.50,500.92 181.20,500.53 181.90,500.48 182.60,500.90 183.30,500.67 184.00,500.92 184.70,500.99 185.40,500.80 186.10,501.00 186.80,500.74 187.50,500.61 188.20,500.50 188.90,500.88 189.60,500.99 190.30,500.51 191.00,500.55 191.70,500.44 192.40,500.79 193.10,500.73 193.80,500.92 194.50,500.98 195.20,500.95 195.90,500.69 196.60,500.94 197.30,500.71 198.00,500.85 198.70,500.88 199.40,500.44 200.10,500.98 200.80,500.86 201.50,500.98 202.20,500.47 202.90,500.86 203.60,500.93 204.30,500.98 205.00,500.79 205.70,500.90 206.40,500.99 207.10,501.00 207.80,500.91 208.50,500.80 209.20,500.84 209.90,500.51 210.60,500.50 211.30,500.47 212.00,500.62 212.70,500.86 213.40,500.84 214.10,500.91 214.80,500.90 215.50,501.00 216.20,500.62 216.90,500.96 217.60,501.00 218.30,500.87 219.00,500.69 219.70,500.89 220.40,500.92 221.10,500.74 221.80,500.98 222.50,501.00 223.20,500.79 223.90,500.83 224.60,500.55 225.30,500.90 226.00,500.63 226.70,501.00 227.40,501.00 228.10,500.79 228.80,500.97 229.50,501.00 230.20,500.99 230.90,500.92 231.60,500.93 232.30,500.81 233.00,500.53 233.70,500.92 234.40,500.98 235.10,500.80 235.80,501.00 236.50,500.91 237.20,500.94 237.90,500.91 238.60,501.00 239.30,500.82 240.00,500.77 240.70,500.66 241.40,500.45 242.10,500.92 242.80,500.74 243.50,500.88 244.20,500.97 244.90,500.53 245.60,500.67 246.30,500.47 247.00,500.60 247.70,500.49 248.40,500.99 249.10,501.00 249.80,500.98 250.50,500.90 251.20,500.72 251.90,500.88 252.60,500.84 253.30,500.65 254.00,501.00 254.70,500.72 255.40,501.00 256.10,500.96 256.80,500.69 257.50,500.72 258.20,500.90 258.90,500.95 259.60,500.59 260.30,500.95 261.00,501.00 261.70,500.96 262.40,501.00 263.10,500.61 263.80,500.99 264.50,500.43 265.20,500.97 265.90,500.94 266.60,500.79 267.30,500.94 268.00,500.91 268.70,500.99 269.40,500.91 270.10,501.00 270.80,500.97 271.50,500.50 272.20,500.95 272.90,500.96 273.60,500.72 274.30,500.53 275.00,500.95 275.70,500.92 276.40,500.69 277.10,500.62 277.80,500.77 278.50,500.98 279.20,500.98 279.90,500.66 280.60,500.70 281.30,500.52 282.00,500.64 282.70,500.89 283.40,500.99 284.10,500.52 284.80,500.71 285.50,500.80 286.20,500.72 286.90,500.91 287.60,500.93 288.30,500.80 289.00,500.86 289.70,500.70 290.40,500.47 291.10,500.57 291.80,500.91 292.50,500.92 293.20,500.48 293.90,500.91 294.60,500.62 295.30,500.99 296.00,500.88 296.70,500.84 297.40,500.61 298.10,500.54 298.80,500.99 299.50,500.77 300,501.5" fill="#262626"/>
<rect x="14.30" y="443.80" width="4.50" height="57.20" fill="#999"/>
<rect x="24.90" y="451.50" width="3.00" height="49.50" fill="#6a6a6a"/>
<rect x="43.20" y="465.50" width="2.70" height="35.50" fill="#7a7a7a"/>
<rect x="64.40" y="491.00" width="2.60" height="10.00" fill="#aaa"/>
<rect x="60.70" y="495.00" width="2.80" height="6.00" fill="#aaa"/>
<rect x="39.80" y="493.00" width="1.40" height="8.00" fill="#aaa"/>
<rect x="7.90" y="469.50" width="1.70" height="31.50" fill="#111"/>
<rect x="9.50" y="473.00" width="2.10" height="28.00" fill="#111"/>
<rect x="9.80" y="367.80" width="2.10" height="133.20" fill="#222"/>
<rect x="7.90" y="416.00" width="4.00" height="85.00" fill="#2a2a2a"/>
<polygon points="24.70,501.00 24.91,494.95 25.27,492.20 25.74,490.00 26.13,491.10 26.52,490.55 26.91,493.85 27.20,496.60 27.30,501.00" fill="#111"/>
<polygon points="19.90,501.00 20.05,499.19 20.32,498.36 20.66,497.70 20.95,498.03 21.23,497.87 21.52,498.86 21.72,499.68 21.80,501.00" fill="#222"/>
<polygon points="43.70,501.00 43.91,495.23 44.27,492.60 44.74,490.50 45.13,491.55 45.52,491.02 45.91,494.18 46.20,496.80 46.30,501.00" fill="#111"/>
<polygon points="48.20,501.00 48.39,498.97 48.73,498.04 49.16,497.30 49.52,497.67 49.88,497.49 50.24,498.60 50.50,499.52 50.60,501.00" fill="#111"/>
<polygon points="55.40,501.00 55.70,498.25 56.24,497.00 56.92,496.00 57.49,496.50 58.06,496.25 58.63,497.75 59.05,499.00 59.20,501.00" fill="#222"/>
<polygon points="61.70,501.00 61.87,498.80 62.16,497.80 62.54,497.00 62.85,497.40 63.17,497.20 63.48,498.40 63.72,499.40 63.80,501.00" fill="#333"/>
<polygon points="67.70,501.00 67.83,499.35 68.05,498.60 68.34,498.00 68.58,498.30 68.82,498.15 69.06,499.05 69.24,499.80 69.30,501.00" fill="#333"/>
<polygon points="32.70,501.00 32.99,498.25 33.49,497.00 34.14,496.00 34.68,496.50 35.22,496.25 35.76,497.75 36.16,499.00 36.30,501.00" fill="#333"/>
<rect x="38.00" y="498.00" width="2.00" height="3.00" fill="#444"/>
<rect x="76.00" y="499.00" width="2.50" height="2.00" fill="#555"/>
<polygon points="84.20,501.00 84.53,498.80 85.10,497.80 85.84,497.00 86.45,497.40 87.07,497.20 87.69,498.40 88.14,499.40 88.30,501.00" fill="#333"/>
<rect x="98.00" y="499.00" width="3.00" height="2.00" fill="#555"/>
<rect x="107.00" y="499.50" width="2.00" height="1.50" fill="#666"/>
<line x1="11.40" y1="285.80" x2="11.40" y2="501.00" stroke="#505050" stroke-width="1.3"/>
<line x1="8.50" y1="346.00" x2="8.50" y2="501.00" stroke="#666" stroke-width="1.2"/>
<line x1="17.90" y1="337.20" x2="17.90" y2="501.00" stroke="#4a4a4a" stroke-width="1.2"/>
<line x1="15.00" y1="407.90" x2="15.00" y2="501.00" stroke="#555" stroke-width="1.1"/>
<line x1="31.20" y1="409.60" x2="31.20" y2="501.00" stroke="#333" stroke-width="1.1"/>
<line x1="30.90" y1="457.00" x2="30.90" y2="501.00" stroke="#333" stroke-width="1.2"/>
<line x1="34.40" y1="454.40" x2="34.40" y2="501.00" stroke="#555" stroke-width="1.1"/>
<line x1="44.80" y1="465.00" x2="44.80" y2="501.00" stroke="#555" stroke-width="1.1"/>
<line x1="50.70" y1="456.30" x2="50.70" y2="501.00" stroke="#606060" stroke-width="1.3"/>
<line x1="71.90" y1="478.80" x2="71.90" y2="501.00" stroke="#333" stroke-width="1.3"/>
<line x1="92.60" y1="488.80" x2="92.60" y2="501.00" stroke="#333" stroke-width="1.2"/>
<line x1="112.00" y1="493.70" x2="112.00" y2="501.00" stroke="#444" stroke-width="1.1"/>
<line x1="130.30" y1="497.00" x2="130.30" y2="501.00" stroke="#444" stroke-width="1.1"/>
<line x1="131.30" y1="497.40" x2="131.30" y2="501.00" stroke="#444" stroke-width="1.0"/>
<line x1="147.40" y1="497.50" x2="147.40" y2="501.00" stroke="#555" stroke-width="1.0"/>
<line x1="65.70" y1="487.00" x2="65.70" y2="501.00" stroke="#999" stroke-width="1.0"/>
<text transform="translate(12.25,284.00) rotate(-90)" font-family='"Liberation Sans", Arial, sans-serif' font-size="3.0" fill="#b0b0b0" textLength="10.0" lengthAdjust="spacingAndGlyphs">nC6</text>
<text transform="translate(18.75,335.00) rotate(-90)" font-family='"Liberation Sans", Arial, sans-serif' font-size="3.0" fill="#b0b0b0" textLength="10.0" lengthAdjust="spacingAndGlyphs">nC7</text>
<text transform="translate(9.35,344.50) rotate(-90)" font-family='"Liberation Sans", Arial, sans-serif' font-size="3.0" fill="#b0b0b0" textLength="10.0" lengthAdjust="spacingAndGlyphs">Tol</text>
<text transform="translate(15.85,406.00) rotate(-90)" font-family='"Liberation Sans", Arial, sans-serif' font-size="3.0" fill="#b0b0b0" textLength="10.0" lengthAdjust="spacingAndGlyphs">EB</text>
<text transform="translate(32.05,407.50) rotate(-90)" font-family='"Liberation Sans", Arial, sans-serif' font-size="3.0" fill="#b0b0b0" textLength="10.0" lengthAdjust="spacingAndGlyphs">nC8</text>
<text transform="translate(27.35,450.00) rotate(-90)" font-family='"Liberation Sans", Arial, sans-serif' font-size="3.0" fill="#b0b0b0" textLength="10.0" lengthAdjust="spacingAndGlyphs">m-X</text>
<text transform="translate(34.95,452.00) rotate(-90)" font-family='"Liberation Sans", Arial, sans-serif' font-size="3.0" fill="#b0b0b0" textLength="10.0" lengthAdjust="spacingAndGlyphs">o-X</text>
<text transform="translate(51.55,454.50) rotate(-90)" font-family='"Liberation Sans", Arial, sans-serif' font-size="3.0" fill="#b0b0b0" textLength="10.0" lengthAdjust="spacingAndGlyphs">nC9</text>
<text transform="translate(45.65,463.00) rotate(-90)" font-family='"Liberation Sans", Arial, sans-serif' font-size="3.0" fill="#b0b0b0" textLength="10.0" lengthAdjust="spacingAndGlyphs">2MH</text>
<text transform="translate(44.35,474.00) rotate(-90)" font-family='"Liberation Sans", Arial, sans-serif' font-size="3.0" fill="#b0b0b0" textLength="10.0" lengthAdjust="spacingAndGlyphs">3MH</text>
<text transform="translate(62.85,493.00) rotate(-90)" font-family='"Liberation Sans", Arial, sans-serif' font-size="3.0" fill="#b0b0b0" textLength="10.0" lengthAdjust="spacingAndGlyphs">DMCP</text>
<text transform="translate(66.55,485.00) rotate(-90)" font-family='"Liberation Sans", Arial, sans-serif' font-size="3.0" fill="#b0b0b0" textLength="10.0" lengthAdjust="spacingAndGlyphs">1M3EB</text>
<text transform="translate(59.85,494.00) rotate(-90)" font-family='"Liberation Sans", Arial, sans-serif' font-size="3.0" fill="#b0b0b0" textLength="10.0" lengthAdjust="spacingAndGlyphs">iC9</text>
<text transform="translate(72.75,477.00) rotate(-90)" font-family='"Liberation Sans", Arial, sans-serif' font-size="3.0" fill="#b0b0b0" textLength="10.0" lengthAdjust="spacingAndGlyphs">nC10</text>
<text transform="translate(93.45,487.00) rotate(-90)" font-family='"Liberation Sans", Arial, sans-serif' font-size="3.0" fill="#b0b0b0" textLength="10.0" lengthAdjust="spacingAndGlyphs">nC11</text>
<text transform="translate(112.85,491.50) rotate(-90)" font-family='"Liberation Sans", Arial, sans-serif' font-size="3.0" fill="#b0b0b0" textLength="10.0" lengthAdjust="spacingAndGlyphs">nC12</text>
<text transform="translate(82.85,496.00) rotate(-90)" font-family='"Liberation Sans", Arial, sans-serif' font-size="3.0" fill="#b0b0b0" textLength="10.0" lengthAdjust="spacingAndGlyphs">iC10</text>
<text transform="translate(131.45,497.20) rotate(-90)" font-family='"Liberation Sans", Arial, sans-serif' font-size="3.0" fill="#b0b0b0" textLength="11.2" lengthAdjust="spacingAndGlyphs">nC13</text>
<text transform="translate(134.15,497.20) rotate(-90)" font-family='"Liberation Sans", Arial, sans-serif' font-size="3.0" fill="#b0b0b0" textLength="11.2" lengthAdjust="spacingAndGlyphs">Pr</text>
<text transform="translate(143.75,497.60) rotate(-90)" font-family='"Liberation Sans", Arial, sans-serif' font-size="3.0" fill="#b0b0b0" textLength="11.2" lengthAdjust="spacingAndGlyphs">nC14</text>
<text transform="translate(148.25,497.60) rotate(-90)" font-family='"Liberation Sans", Arial, sans-serif' font-size="3.0" fill="#b0b0b0" textLength="11.2" lengthAdjust="spacingAndGlyphs">Ph</text>
<text transform="translate(160.85,497.80) rotate(-90)" font-family='"Liberation Sans", Arial, sans-serif' font-size="3.0" fill="#b0b0b0" textLength="11.2" lengthAdjust="spacingAndGlyphs">nC15</text>
<text transform="translate(164.05,497.80) rotate(-90)" font-family='"Liberation Sans", Arial, sans-serif' font-size="3.0" fill="#b0b0b0" textLength="11.2" lengthAdjust="spacingAndGlyphs">MCP</text>
<text transform="translate(173.85,497.80) rotate(-90)" font-family='"Liberation Sans", Arial, sans-serif' font-size="3.0" fill="#b0b0b0" textLength="11.2" lengthAdjust="spacingAndGlyphs">nC16</text>
<text transform="translate(178.65,497.80) rotate(-90)" font-family='"Liberation Sans", Arial, sans-serif' font-size="3.0" fill="#b0b0b0" textLength="11.2" lengthAdjust="spacingAndGlyphs">CH</text>
<text transform="translate(193.85,498.20) rotate(-90)" font-family='"Liberation Sans", Arial, sans-serif' font-size="3.0" fill="#b0b0b0" textLength="11.2" lengthAdjust="spacingAndGlyphs">nC17</text>
<text transform="translate(198.65,498.20) rotate(-90)" font-family='"Liberation Sans", Arial, sans-serif' font-size="3.0" fill="#b0b0b0" textLength="11.2" lengthAdjust="spacingAndGlyphs">MCH</text>
<text transform="translate(201.75,498.80) rotate(-90)" font-family='"Liberation Sans", Arial, sans-serif' font-size="3.0" fill="#b0b0b0" textLength="11.2" lengthAdjust="spacingAndGlyphs">nC18</text>
<text transform="translate(207.55,498.80) rotate(-90)" font-family='"Liberation Sans", Arial, sans-serif' font-size="3.0" fill="#b0b0b0" textLength="11.2" lengthAdjust="spacingAndGlyphs">nC19</text>
<text transform="translate(221.05,498.80) rotate(-90)" font-family='"Liberation Sans", Arial, sans-serif' font-size="3.0" fill="#b0b0b0" textLength="11.2" lengthAdjust="spacingAndGlyphs">nC20</text>
<text transform="translate(232.75,498.80) rotate(-90)" font-family='"Liberation Sans", Arial, sans-serif' font-size="3.0" fill="#b0b0b0" textLength="11.2" lengthAdjust="spacingAndGlyphs">nC21</text>
<text transform="translate(244.55,498.80) rotate(-90)" font-family='"Liberation Sans", Arial, sans-serif' font-size="3.0" fill="#b0b0b0" textLength="11.2" lengthAdjust="spacingAndGlyphs">nC22</text>
<text transform="translate(255.45,498.80) rotate(-90)" font-family='"Liberation Sans", Arial, sans-serif' font-size="3.0" fill="#b0b0b0" textLength="11.2" lengthAdjust="spacingAndGlyphs">nC23</text>
<text transform="translate(266.55,498.80) rotate(-90)" font-family='"Liberation Sans", Arial, sans-serif' font-size="3.0" fill="#b0b0b0" textLength="11.2" lengthAdjust="spacingAndGlyphs">nC24</text>
<text transform="translate(276.25,498.80) rotate(-90)" font-family='"Liberation Sans", Arial, sans-serif' font-size="3.0" fill="#b0b0b0" textLength="11.2" lengthAdjust="spacingAndGlyphs">nC25</text>
<text transform="translate(286.45,498.80) rotate(-90)" font-family='"Liberation Sans", Arial, sans-serif' font-size="3.0" fill="#b0b0b0" textLength="11.2" lengthAdjust="spacingAndGlyphs">nC26</text>
<text transform="translate(295.35,498.80) rotate(-90)" font-family='"Liberation Sans", Arial, sans-serif' font-size="3.0" fill="#b0b0b0" textLength="11.2" lengthAdjust="spacingAndGlyphs">nC27</text>
<text transform="translate(304.35,498.80) rotate(-90)" font-family='"Liberation Sans", Arial, sans-serif' font-size="3.0" fill="#b0b0b0" textLength="11.2" lengthAdjust="spacingAndGlyphs">nC28</text>
<text transform="translate(313.25,498.80) rotate(-90)" font-family='"Liberation Sans", Arial, sans-serif' font-size="3.0" fill="#b0b0b0" textLength="11.2" lengthAdjust="spacingAndGlyphs">nC29</text>
<text transform="translate(322.25,498.80) rotate(-90)" font-family='"Liberation Sans", Arial, sans-serif' font-size="3.0" fill="#b0b0b0" textLength="11.2" lengthAdjust="spacingAndGlyphs">nC30</text>
<text transform="translate(330.25,498.80) rotate(-90)" font-family='"Liberation Sans", Arial, sans-serif' font-size="3.0" fill="#b0b0b0" textLength="11.2" lengthAdjust="spacingAndGlyphs">nC31</text>
<text transform="translate(339.25,498.80) rotate(-90)" font-family='"Liberation Sans", Arial, sans-serif' font-size="3.0" fill="#b0b0b0" textLength="11.2" lengthAdjust="spacingAndGlyphs">nC32</text>
<text transform="translate(37.15,487.00) rotate(-90)" font-family='"Liberation Sans", Arial, sans-serif' font-size="3.0" fill="#b0b0b0" textLength="10.0" lengthAdjust="spacingAndGlyphs">Tol</text>
<text transform="translate(39.15,491.00) rotate(-90)" font-family='"Liberation Sans", Arial, sans-serif' font-size="3.0" fill="#b0b0b0" textLength="10.0" lengthAdjust="spacingAndGlyphs">EB</text>
<text transform="translate(41.15,486.00) rotate(-90)" font-family='"Liberation Sans", Arial, sans-serif' font-size="3.0" fill="#b0b0b0" textLength="10.0" lengthAdjust="spacingAndGlyphs">m-X</text>
<text transform="translate(21.45,488.00) rotate(-90)" font-family='"Liberation Sans", Arial, sans-serif' font-size="3.0" fill="#b0b0b0" textLength="10.0" lengthAdjust="spacingAndGlyphs">o-X</text>
<text transform="translate(23.15,494.00) rotate(-90)" font-family='"Liberation Sans", Arial, sans-serif' font-size="3.0" fill="#b0b0b0" textLength="10.0" lengthAdjust="spacingAndGlyphs">2MH</text>
<text transform="translate(57.65,492.00) rotate(-90)" font-family='"Liberation Sans", Arial, sans-serif' font-size="3.0" fill="#b0b0b0" textLength="10.0" lengthAdjust="spacingAndGlyphs">3MH</text>
<text transform="translate(59.45,489.00) rotate(-90)" font-family='"Liberation Sans", Arial, sans-serif' font-size="3.0" fill="#b0b0b0" textLength="10.0" lengthAdjust="spacingAndGlyphs">DMCP</text>
<text transform="translate(36.35,497.00) rotate(-90)" font-family='"Liberation Sans", Arial, sans-serif' font-size="3.0" fill="#b0b0b0" textLength="10.0" lengthAdjust="spacingAndGlyphs">1M3EB</text>
<text transform="translate(42.45,497.00) rotate(-90)" font-family='"Liberation Sans", Arial, sans-serif' font-size="3.0" fill="#b0b0b0" textLength="10.0" lengthAdjust="spacingAndGlyphs">iC9</text>
<text transform="translate(54.35,492.00) rotate(-90)" font-family='"Liberation Sans", Arial, sans-serif' font-size="3.0" fill="#b0b0b0" textLength="10.0" lengthAdjust="spacingAndGlyphs">iC10</text>
<text transform="translate(47.85,488.00) rotate(-90)" font-family='"Liberation Sans", Arial, sans-serif' font-size="3.0" fill="#b0b0b0" textLength="10.0" lengthAdjust="spacingAndGlyphs">Pr</text>
<text transform="translate(24.85,462.00) rotate(-90)" font-family='"Liberation Sans", Arial, sans-serif' font-size="3.0" fill="#b0b0b0" textLength="10.0" lengthAdjust="spacingAndGlyphs">Ph</text>
<text transform="translate(20.65,470.00) rotate(-90)" font-family='"Liberation Sans", Arial, sans-serif' font-size="3.0" fill="#b0b0b0" textLength="10.0" lengthAdjust="spacingAndGlyphs">MCP</text>
<line x1="26.1" y1="331.1" x2="127.8" y2="476.3" stroke="#111" stroke-width="2.6" stroke-linecap="round"/>
<text transform="translate(52.30,356.80) rotate(55.20)" font-family='"Liberation Sans", Arial, sans-serif' font-size="9.0" font-weight="bold" fill="#1a1a1a" stroke="#1a1a1a" stroke-width="0.3" textLength="100.2" lengthAdjust="spacingAndGlyphs">Molar Slope nC6 – nC12</text>
<line x1="203.9" y1="479.8" x2="323" y2="482.3" stroke="#111" stroke-width="2.0"/>
<text transform="translate(209.90,476.60) rotate(0.00)" font-family='"Liberation Sans", Arial, sans-serif' font-size="9.0" font-weight="bold" fill="#1a1a1a" stroke="#1a1a1a" stroke-width="0.3" textLength="103.3" lengthAdjust="spacingAndGlyphs">Molar Slope nC17 – nC27</text>
<text x="201.30" y="279.70" font-family='"Liberation Sans", Arial, sans-serif' font-size="9.2" font-weight="bold" fill="#1a1a1a" stroke="#1a1a1a" stroke-width="0.3" textLength="19.8" lengthAdjust="spacingAndGlyphs">WG2</text>
<circle cx="202.8" cy="288.90" r="1.2" fill="#1a1a1a"/>
<text x="215.50" y="291.60" font-family='"Liberation Sans", Arial, sans-serif' font-size="9.0" font-weight="bold" fill="#1a1a1a" stroke="#1a1a1a" stroke-width="0.3" textLength="48.5" lengthAdjust="spacingAndGlyphs">API = 74.6°</text>
<circle cx="202.8" cy="301.27" r="1.2" fill="#1a1a1a"/>
<text x="215.50" y="303.97" font-family='"Liberation Sans", Arial, sans-serif' font-size="9.0" font-weight="bold" fill="#1a1a1a" stroke="#1a1a1a" stroke-width="0.3" textLength="102.0" lengthAdjust="spacingAndGlyphs">Pristane/Phytane = 1.94</text>
<circle cx="202.8" cy="313.64" r="1.2" fill="#1a1a1a"/>
<text x="215.50" y="316.34" font-family='"Liberation Sans", Arial, sans-serif' font-size="9.0" font-weight="bold" fill="#1a1a1a" stroke="#1a1a1a" stroke-width="0.3">nC<tspan font-size="5.8" dy="1.9">6</tspan><tspan dy="-1.9">/nC</tspan><tspan font-size="5.8" dy="1.9">7</tspan><tspan dy="-1.9"> = 1.29</tspan></text>
<circle cx="202.8" cy="326.01" r="1.2" fill="#1a1a1a"/>
<text x="215.50" y="328.71" font-family='"Liberation Sans", Arial, sans-serif' font-size="9.0" font-weight="bold" fill="#1a1a1a" stroke="#1a1a1a" stroke-width="0.3">Toluene/nC<tspan font-size="5.8" dy="1.9">7</tspan><tspan dy="-1.9"> = 0.11</tspan></text>
<circle cx="202.8" cy="338.38" r="1.2" fill="#1a1a1a"/>
<text x="215.50" y="341.08" font-family='"Liberation Sans", Arial, sans-serif' font-size="9.0" font-weight="bold" fill="#1a1a1a" stroke="#1a1a1a" stroke-width="0.3" textLength="94.0" lengthAdjust="spacingAndGlyphs">Heptane Ratio = 33.56</text>
<circle cx="202.8" cy="350.75" r="1.2" fill="#1a1a1a"/>
<text x="215.50" y="353.45" font-family='"Liberation Sans", Arial, sans-serif' font-size="9.0" font-weight="bold" fill="#1a1a1a" stroke="#1a1a1a" stroke-width="0.3" textLength="99.0" lengthAdjust="spacingAndGlyphs">Isoheptane Ratio = 8.55</text>
<circle cx="202.8" cy="363.12" r="1.2" fill="#1a1a1a"/>
<text x="215.50" y="365.82" font-family='"Liberation Sans", Arial, sans-serif' font-size="9.0" font-weight="bold" fill="#1a1a1a" stroke="#1a1a1a" stroke-width="0.3">C<tspan font-size="5.8" dy="1.9">7</tspan><tspan dy="-1.9"> Temp = 131.88 °C</tspan></text>
<line x1="22" y1="510.9" x2="169" y2="510.9" stroke="#555" stroke-width="1.45"/>
<line x1="178" y1="510.9" x2="343" y2="510.9" stroke="#555" stroke-width="1.45"/>
<polygon points="19.3,510.9 25,508.2 25,513.6" fill="#111"/>
<polygon points="173.4,510.9 168,508.2 168,513.6" fill="#111"/>
<polygon points="174.6,510.9 180,508.2 180,513.6" fill="#111"/>
<polygon points="347,510.9 341.5,508.09999999999997 341.5,513.6999999999999" fill="#111"/>
<text x="30.10" y="524.70" font-family='"Liberation Sans", Arial, sans-serif' font-size="8.8" font-weight="bold" fill="#1a1a1a" stroke="#1a1a1a" stroke-width="0.3" textLength="138.4" lengthAdjust="spacingAndGlyphs">C6 – C15 LIGHT HYDROCARBONS</text>
<text x="232.30" y="526.30" font-family='"Liberation Sans", Arial, sans-serif' font-size="9.0" font-weight="bold" fill="#1a1a1a" stroke="#1a1a1a" stroke-width="0.3" textLength="66.4" lengthAdjust="spacingAndGlyphs">C15+ BLACK OIL</text>
<text x="213.50" y="542.60" font-family='"Liberation Serif", "Times New Roman", serif' font-size="11.9" font-weight="normal" fill="#1a1a1a" textLength="14.6" lengthAdjust="spacingAndGlyphs">(<tspan font-weight="bold">b</tspan>)</text>
</svg>
</body></html>
